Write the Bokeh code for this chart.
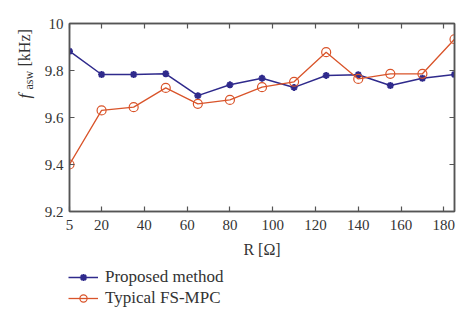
import math
from bokeh.plotting import figure
from bokeh.models import FixedTicker, LinearAxis, Legend, LegendItem, Label, Range1d
from bokeh.layouts import column, row
from bokeh.embed import file_html
from bokeh.resources import INLINE

r_values = [5, 20, 35, 50, 65, 80, 95, 110, 125, 140, 155, 170, 185]
proposed = [9.882, 9.783, 9.783, 9.786, 9.693, 9.739, 9.767, 9.728, 9.779, 9.782, 9.736, 9.767, 9.783]
typical = [9.400, 9.630, 9.644, 9.726, 9.658, 9.675, 9.729, 9.752, 9.878, 9.764, 9.786, 9.786, 9.933]
x_ticks = [5, 20, 40, 60, 80, 100, 120, 140, 160, 180]
y_ticks = [9.2, 9.4, 9.6, 9.8, 10.0]
y_tick_labels = {9.2: "9.2", 9.4: "9.4", 9.6: "9.6", 9.8: "9.8", 10.0: "10"}
series_names = ["Proposed method", "Typical FS-MPC"]

BLUE = "#2f2a8c"
ORANGE = "#d9542a"
AXIS = "#555555"
TEXT = "#333333"
FONT = "Liberation Serif"

TOP_H = 265
YLAB_W = 40

# ---- main plot ----
p = figure(width=474 - YLAB_W, height=TOP_H, output_backend="svg", toolbar_location=None,
           x_range=Range1d(5, 185), y_range=Range1d(9.2, 10.0),
           min_border_left=69 - YLAB_W, min_border_right=20, min_border_top=23,
           min_border_bottom=TOP_H - 211)
p.grid.visible = False
p.outline_line_color = AXIS
p.outline_line_width = 1.5

def style_axis(ax, labels=True):
    ax.axis_line_color = AXIS
    ax.axis_line_width = 1.5
    ax.major_tick_line_color = AXIS
    ax.major_tick_line_width = 1.2
    ax.major_tick_in = 5
    ax.major_tick_out = 0
    ax.minor_tick_line_color = None
    ax.major_label_text_font = FONT
    ax.major_label_text_font_size = "15px"
    ax.major_label_text_color = TEXT
    if not labels:
        ax.major_label_text_font_size = "0px"
        ax.major_label_text_color = None

xa = p.xaxis[0]
xa.ticker = FixedTicker(ticks=x_ticks)
style_axis(xa)
xa.major_label_standoff = 8
xa.axis_label = "R [Ω]"
xa.axis_label_text_font = FONT
xa.axis_label_text_font_size = "16px"
xa.axis_label_text_font_style = "normal"
xa.axis_label_text_color = TEXT
xa.axis_label_standoff = 8

ya = p.yaxis[0]
ya.ticker = FixedTicker(ticks=y_ticks)
ya.major_label_overrides = y_tick_labels
style_axis(ya)
ya.major_label_standoff = 6

top = LinearAxis(ticker=FixedTicker(ticks=x_ticks))
style_axis(top, labels=False)
top.major_label_standoff = 0
p.add_layout(top, "above")
right = LinearAxis(ticker=FixedTicker(ticks=y_ticks))
style_axis(right, labels=False)
right.major_label_standoff = 0
p.add_layout(right, "right")

p.line(r_values, proposed, line_color=BLUE, line_width=1.5)
p.scatter(r_values, proposed, marker="asterisk", size=7, line_color=BLUE, line_width=2)
p.line(r_values, typical, line_color=ORANGE, line_width=1.3)
p.scatter(r_values, typical, marker="circle", size=9, line_color=ORANGE, fill_color=None, line_width=1.2)

# ---- y-axis label panel ----
yl = figure(width=YLAB_W, height=TOP_H, output_backend="svg", toolbar_location=None,
            x_axis_type=None, y_axis_type=None, x_range=Range1d(0, YLAB_W), y_range=Range1d(0, TOP_H),
            min_border=0)
yl.outline_line_color = None
yl.grid.visible = False
yl.add_layout(Label(x=24, y=TOP_H - 152, x_units="screen", y_units="screen", text="f", angle=math.pi / 2,
                    text_font=FONT, text_font_style="italic", text_font_size="17px",
                    text_color=TEXT, text_align="left", text_baseline="middle"))
yl.add_layout(Label(x=28, y=TOP_H - 143, x_units="screen", y_units="screen", text="asw", angle=math.pi / 2,
                    text_font=FONT, text_font_size="12px",
                    text_color=TEXT, text_align="left", text_baseline="middle"))
yl.add_layout(Label(x=24, y=TOP_H - 120, x_units="screen", y_units="screen", text="[kHz]", angle=math.pi / 2,
                    text_font=FONT, text_font_size="16px",
                    text_color=TEXT, text_align="left", text_baseline="middle"))

# ---- legend panel (legend renderers sit outside this panel's visible range) ----
LEG_H = 323 - TOP_H
lg = figure(width=474, height=LEG_H, output_backend="svg", toolbar_location=None,
            x_axis_type=None, y_axis_type=None, x_range=Range1d(0, 1), y_range=Range1d(0, 1),
            min_border=0)
lg.outline_line_color = None
lg.grid.visible = False
d1 = lg.line(r_values, proposed, line_color=BLUE, line_width=1.5)
d2 = lg.scatter(r_values, proposed, marker="asterisk", size=7, line_color=BLUE, line_width=2)
d3 = lg.line(r_values, typical, line_color=ORANGE, line_width=1.3)
d4 = lg.scatter(r_values, typical, marker="circle", size=8, line_color=ORANGE, fill_color=None, line_width=1.2)
legend = Legend(items=[LegendItem(label=series_names[0], renderers=[d1, d2]),
                       LegendItem(label=series_names[1], renderers=[d3, d4])],
                location=(68, LEG_H - 43), border_line_color=None, background_fill_alpha=0,
                label_text_font=FONT, label_text_font_size="17px", label_text_color=TEXT,
                glyph_width=30, glyph_height=18, label_standoff=7, spacing=1, padding=2, margin=0)
lg.add_layout(legend, "center")

layout = column(row(yl, p), lg)
open("out.html", "w").write(file_html(layout, INLINE))
